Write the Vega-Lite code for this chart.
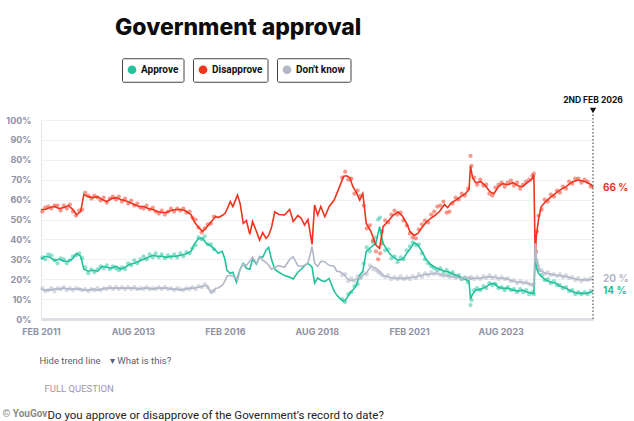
{
"$schema": "https://vega.github.io/schema/vega-lite/v6.json",
"width": 552, "height": 199,
"autosize": {"type": "none"},
"padding": {"left": 41, "top": 120, "right": 41, "bottom": 102},
"background": "white",
"title": {"text": "Government approval", "anchor": "start", "frame": "group", "dx": 74, "offset": 18, "font": "Inter", "fontSize": 23, "fontWeight": 800, "color": "#0d0d0d"},
"config": {"view": {"stroke": null}},
"datasets": {
"trend": [
{"date":"2011-02-01","A":30,"D":55,"K":15},
{"date":"2011-03-15","A":31.5,"D":55,"K":14.5},
{"date":"2011-05-01","A":31,"D":56,"K":14.5},
{"date":"2011-06-15","A":29.5,"D":56.5,"K":15},
{"date":"2011-08-01","A":30,"D":55.5,"K":15},
{"date":"2011-09-15","A":29,"D":56,"K":15.5},
{"date":"2011-11-01","A":29,"D":57,"K":15},
{"date":"2011-12-15","A":30.5,"D":55,"K":15},
{"date":"2012-01-20","A":33,"D":52.5,"K":15},
{"date":"2012-03-01","A":31.5,"D":54,"K":15},
{"date":"2012-04-01","A":25,"D":62.5,"K":14.5},
{"date":"2012-05-15","A":24,"D":61.5,"K":14.5},
{"date":"2012-07-01","A":24.5,"D":61,"K":15},
{"date":"2012-08-15","A":24,"D":61.5,"K":14.5},
{"date":"2012-10-01","A":26.5,"D":60,"K":15},
{"date":"2012-11-15","A":26,"D":59,"K":15.5},
{"date":"2013-01-01","A":25.5,"D":60.5,"K":15.5},
{"date":"2013-02-15","A":26.5,"D":61,"K":15.5},
{"date":"2013-04-01","A":25,"D":60,"K":15.5},
{"date":"2013-05-15","A":26,"D":59.5,"K":15.5},
{"date":"2013-07-01","A":27.5,"D":58.5,"K":15.5},
{"date":"2013-08-15","A":28,"D":57.5,"K":15.5},
{"date":"2013-10-01","A":29,"D":56.5,"K":15},
{"date":"2013-11-15","A":30,"D":56.5,"K":15.5},
{"date":"2014-01-01","A":31,"D":55.5,"K":15.5},
{"date":"2014-02-15","A":32,"D":55,"K":15},
{"date":"2014-04-01","A":31.5,"D":54,"K":15.5},
{"date":"2014-05-15","A":31.5,"D":53.5,"K":15.5},
{"date":"2014-07-01","A":31,"D":53.5,"K":15.5},
{"date":"2014-08-15","A":31.5,"D":54.5,"K":15},
{"date":"2014-10-01","A":31.5,"D":55,"K":15},
{"date":"2014-11-15","A":32,"D":55,"K":14.5},
{"date":"2015-01-01","A":32.5,"D":54.5,"K":15},
{"date":"2015-03-01","A":34,"D":52.5,"K":15.5},
{"date":"2015-04-01","A":37.5,"D":49,"K":15.5},
{"date":"2015-05-15","A":40.5,"D":46,"K":16},
{"date":"2015-06-25","A":40.5,"D":44,"K":16.5},
{"date":"2015-08-01","A":38,"D":46,"K":17},
{"date":"2015-09-20","A":36.5,"D":49,"K":13},
{"date":"2015-11-01","A":34.5,"D":51.5,"K":15.5},
{"date":"2015-11-25","A":33,"D":51,"K":15.6},
{"date":"2016-01-05","A":34,"D":52,"K":17},
{"date":"2016-02-01","A":30,"D":53,"K":19},
{"date":"2016-02-20","A":24.5,"D":55,"K":21.5},
{"date":"2016-03-25","A":23,"D":59,"K":22},
{"date":"2016-04-20","A":23.5,"D":56.5,"K":21.5},
{"date":"2016-05-25","A":18.5,"D":61,"K":20.5},
{"date":"2016-06-05","A":21,"D":62.3,"K":19.5},
{"date":"2016-07-01","A":25,"D":58,"K":25},
{"date":"2016-08-01","A":28,"D":48,"K":27.5},
{"date":"2016-09-01","A":25.5,"D":49.5,"K":27},
{"date":"2016-10-05","A":25,"D":42.5,"K":29},
{"date":"2016-11-01","A":30,"D":49,"K":31},
{"date":"2016-12-10","A":27.5,"D":44,"K":28},
{"date":"2017-01-10","A":31.3,"D":39.7,"K":31.3},
{"date":"2017-02-10","A":31,"D":43.4,"K":29.5},
{"date":"2017-03-15","A":34.6,"D":40.5,"K":28.5},
{"date":"2017-04-10","A":36,"D":42,"K":27},
{"date":"2017-05-08","A":30,"D":46,"K":25},
{"date":"2017-06-10","A":25,"D":53.9,"K":26},
{"date":"2017-07-20","A":23.5,"D":52.5,"K":26.8},
{"date":"2017-09-15","A":21.8,"D":52.3,"K":26},
{"date":"2017-11-05","A":21,"D":55,"K":30},
{"date":"2017-12-10","A":20.1,"D":49,"K":31.3},
{"date":"2018-01-25","A":23.5,"D":52,"K":26.8},
{"date":"2018-03-01","A":25,"D":50.5,"K":26.5},
{"date":"2018-04-01","A":26.8,"D":47.2,"K":27},
{"date":"2018-05-05","A":28,"D":50,"K":28},
{"date":"2018-06-15","A":26,"D":37.5,"K":36.5},
{"date":"2018-07-10","A":18,"D":57.3,"K":28},
{"date":"2018-08-10","A":20.6,"D":52.3,"K":26.5},
{"date":"2018-09-10","A":19.5,"D":56.5,"K":29},
{"date":"2018-10-20","A":18.8,"D":51.4,"K":28.8},
{"date":"2018-12-01","A":20.4,"D":56.4,"K":27},
{"date":"2019-01-20","A":14,"D":59.8,"K":26.5},
{"date":"2019-02-15","A":12,"D":63,"K":24},
{"date":"2019-03-15","A":10.5,"D":66.5,"K":23.8},
{"date":"2019-04-25","A":8.7,"D":71.8,"K":22.5},
{"date":"2019-05-25","A":10.4,"D":72,"K":20.5},
{"date":"2019-06-25","A":13,"D":71,"K":19.5},
{"date":"2019-07-25","A":14.6,"D":66.5,"K":19.5},
{"date":"2019-08-25","A":16.5,"D":64,"K":20},
{"date":"2019-10-01","A":22,"D":59.8,"K":21},
{"date":"2019-11-01","A":24,"D":63,"K":22},
{"date":"2019-12-05","A":34,"D":48,"K":23},
{"date":"2020-01-20","A":36,"D":44,"K":26.5},
{"date":"2020-03-10","A":38,"D":37.2,"K":25.5},
{"date":"2020-04-15","A":46.4,"D":35.5,"K":24},
{"date":"2020-05-20","A":38,"D":46.4,"K":22},
{"date":"2020-07-20","A":33,"D":49.7,"K":21},
{"date":"2020-08-25","A":31.3,"D":52,"K":20.6},
{"date":"2020-10-15","A":29.6,"D":53.9,"K":20.4},
{"date":"2020-12-01","A":30,"D":51.5,"K":20.5},
{"date":"2021-01-10","A":33,"D":48,"K":20.4},
{"date":"2021-02-10","A":35,"D":44,"K":20.8},
{"date":"2021-03-25","A":38.5,"D":42,"K":21},
{"date":"2021-05-01","A":37,"D":43,"K":21.5},
{"date":"2021-06-10","A":34,"D":46,"K":22},
{"date":"2021-07-20","A":30,"D":48.5,"K":22.5},
{"date":"2021-09-01","A":27.5,"D":50.5,"K":22.5},
{"date":"2021-10-15","A":26,"D":52,"K":23},
{"date":"2021-12-01","A":25,"D":54,"K":22.5},
{"date":"2022-01-20","A":24,"D":57.5,"K":22},
{"date":"2022-02-20","A":23.8,"D":56,"K":21.5},
{"date":"2022-04-01","A":23,"D":58.5,"K":21.3},
{"date":"2022-05-15","A":22,"D":59.8,"K":21},
{"date":"2022-07-01","A":21,"D":61.5,"K":20.5},
{"date":"2022-08-15","A":20,"D":63,"K":20.5},
{"date":"2022-09-20","A":19,"D":65,"K":21},
{"date":"2022-10-05","A":10,"D":77,"K":20},
{"date":"2022-10-25","A":12.5,"D":71,"K":20.5},
{"date":"2022-11-25","A":14.5,"D":68.5,"K":20.5},
{"date":"2023-01-15","A":15,"D":69,"K":20.5},
{"date":"2023-03-01","A":16,"D":67,"K":21},
{"date":"2023-04-15","A":17.5,"D":64,"K":21.3},
{"date":"2023-05-25","A":18,"D":63,"K":21},
{"date":"2023-07-10","A":16,"D":66.5,"K":20.5},
{"date":"2023-08-20","A":15.4,"D":68,"K":20.5},
{"date":"2023-10-10","A":15.5,"D":67.5,"K":20},
{"date":"2023-12-01","A":14.5,"D":68.5,"K":19},
{"date":"2024-01-20","A":14,"D":67,"K":18.5},
{"date":"2024-03-05","A":14.5,"D":66.5,"K":18.5},
{"date":"2024-04-20","A":13.5,"D":68.5,"K":18},
{"date":"2024-06-01","A":13,"D":70,"K":17.5},
{"date":"2024-06-25","A":12.9,"D":72.4,"K":17},
{"date":"2024-07-08","A":29.6,"D":31.3,"K":38},
{"date":"2024-07-20","A":26,"D":42,"K":30},
{"date":"2024-08-10","A":23,"D":50,"K":25.5},
{"date":"2024-09-05","A":21.5,"D":56.4,"K":24},
{"date":"2024-10-20","A":19.6,"D":59,"K":23},
{"date":"2024-12-15","A":18.5,"D":61.5,"K":22.5},
{"date":"2025-02-05","A":17.9,"D":63.5,"K":22},
{"date":"2025-03-10","A":16.5,"D":64.8,"K":21.8},
{"date":"2025-05-10","A":15.4,"D":66.5,"K":21.3},
{"date":"2025-07-15","A":13.7,"D":69,"K":20.5},
{"date":"2025-09-10","A":12.9,"D":69.8,"K":19.8},
{"date":"2025-11-20","A":12.9,"D":69,"K":19.6},
{"date":"2026-01-15","A":13.5,"D":67.5,"K":19.8},
{"date":"2026-02-02","A":14,"D":66,"K":20}
],
"polls": [
{"date":"2011-02-15","A":31,"D":54,"K":15.5},
{"date":"2011-03-15","A":30,"D":56,"K":14},
{"date":"2011-04-15","A":32.5,"D":56.5,"K":14.5},
{"date":"2011-05-15","A":32,"D":55.5,"K":15.5},
{"date":"2011-06-15","A":29.5,"D":57,"K":14},
{"date":"2011-07-15","A":28,"D":57,"K":15.5},
{"date":"2011-08-15","A":30.5,"D":54.5,"K":15},
{"date":"2011-09-15","A":30,"D":57,"K":16},
{"date":"2011-10-15","A":28,"D":55.5,"K":14.5},
{"date":"2011-11-15","A":29.5,"D":57.5,"K":15.5},
{"date":"2011-12-15","A":31.5,"D":54,"K":14.5},
{"date":"2012-01-15","A":32,"D":52,"K":15.5},
{"date":"2012-02-15","A":33,"D":54.5,"K":15},
{"date":"2012-03-15","A":30.5,"D":55,"K":14.5},
{"date":"2012-04-15","A":26,"D":63.5,"K":15},
{"date":"2012-05-15","A":23,"D":62,"K":14},
{"date":"2012-06-15","A":25,"D":60.5,"K":15},
{"date":"2012-07-15","A":23.5,"D":62,"K":14.5},
{"date":"2012-08-15","A":25,"D":61,"K":15.5},
{"date":"2012-09-15","A":26.5,"D":59.5,"K":14.5},
{"date":"2012-10-15","A":25.5,"D":61,"K":15.5},
{"date":"2012-11-15","A":27,"D":58.5,"K":15},
{"date":"2012-12-15","A":25,"D":60.5,"K":16},
{"date":"2013-01-15","A":26.5,"D":61.5,"K":15},
{"date":"2013-02-15","A":25.5,"D":60,"K":16},
{"date":"2013-03-15","A":24.5,"D":61.5,"K":15},
{"date":"2013-04-15","A":26,"D":59,"K":16},
{"date":"2013-05-15","A":25,"D":60.5,"K":15},
{"date":"2013-06-15","A":28,"D":58,"K":16},
{"date":"2013-07-15","A":27,"D":59.5,"K":15},
{"date":"2013-08-15","A":29.5,"D":57,"K":16},
{"date":"2013-09-15","A":28,"D":58,"K":15},
{"date":"2013-10-15","A":30,"D":56,"K":15.5},
{"date":"2013-11-15","A":31.5,"D":55.5,"K":15},
{"date":"2013-12-15","A":30,"D":57,"K":16},
{"date":"2014-01-15","A":32.5,"D":55,"K":15},
{"date":"2014-02-15","A":31,"D":56,"K":15.5},
{"date":"2014-03-15","A":33,"D":54,"K":15},
{"date":"2014-04-15","A":31,"D":53,"K":16},
{"date":"2014-05-15","A":32.5,"D":54.5,"K":15},
{"date":"2014-06-15","A":30.5,"D":52.5,"K":16},
{"date":"2014-07-15","A":32,"D":54,"K":15},
{"date":"2014-08-15","A":31,"D":55.5,"K":15.5},
{"date":"2014-09-15","A":32.5,"D":54,"K":14.5},
{"date":"2014-10-15","A":31,"D":55.5,"K":15.5},
{"date":"2014-11-15","A":33,"D":54.5,"K":15},
{"date":"2014-12-15","A":31.5,"D":55.5,"K":14.5},
{"date":"2015-01-15","A":33.5,"D":53.5,"K":15.5},
{"date":"2015-02-15","A":33,"D":54,"K":15},
{"date":"2015-03-15","A":35.5,"D":51,"K":16},
{"date":"2015-04-15","A":37,"D":50,"K":15},
{"date":"2015-05-15","A":41,"D":46,"K":16.5},
{"date":"2015-06-15","A":40,"D":43.5,"K":16},
{"date":"2015-07-15","A":41.5,"D":45.5,"K":17.5},
{"date":"2015-08-15","A":37.5,"D":47.5,"K":16},
{"date":"2015-09-15","A":37.5,"D":48,"K":14},
{"date":"2015-10-15","A":35,"D":51.5,"K":14},
{"date":"2019-04-10","A":10,"D":71,"K":22},
{"date":"2019-05-10","A":8.5,"D":74,"K":22.5},
{"date":"2019-06-10","A":12.5,"D":70,"K":19},
{"date":"2019-07-10","A":13.5,"D":70.5,"K":20.5},
{"date":"2019-08-10","A":16.5,"D":63,"K":19},
{"date":"2019-09-10","A":17.5,"D":64.5,"K":21.5},
{"date":"2019-10-10","A":21,"D":62,"K":20.5},
{"date":"2019-11-10","A":28,"D":57,"K":23},
{"date":"2019-12-10","A":36,"D":45.5,"K":22.5},
{"date":"2020-01-10","A":34,"D":47,"K":27},
{"date":"2020-02-10","A":38.5,"D":39.5,"K":25},
{"date":"2020-03-10","A":41,"D":34,"K":24.5},
{"date":"2020-04-01","A":50,"D":30,"K":23.5},
{"date":"2020-04-20","A":51,"D":33,"K":23},
{"date":"2020-05-10","A":44,"D":38,"K":22},
{"date":"2020-06-10","A":34.5,"D":49.5,"K":21},
{"date":"2020-07-10","A":35,"D":48.5,"K":22},
{"date":"2020-08-10","A":30.5,"D":52.5,"K":20},
{"date":"2020-09-10","A":31.5,"D":54.5,"K":21},
{"date":"2020-10-10","A":28.5,"D":52.5,"K":20},
{"date":"2020-11-10","A":31,"D":53.5,"K":21.5},
{"date":"2020-12-10","A":30,"D":49.5,"K":20},
{"date":"2021-01-10","A":34.5,"D":47,"K":21},
{"date":"2021-02-10","A":36.5,"D":43,"K":20},
{"date":"2021-03-10","A":38.5,"D":41,"K":21.5},
{"date":"2021-04-10","A":37,"D":40.5,"K":20.5},
{"date":"2021-05-10","A":37.5,"D":45,"K":22.5},
{"date":"2021-06-10","A":33,"D":47.5,"K":21},
{"date":"2021-07-10","A":30,"D":49.5,"K":23},
{"date":"2021-08-10","A":28,"D":48.5,"K":22},
{"date":"2021-09-10","A":26.5,"D":52.5,"K":23.5},
{"date":"2021-10-10","A":25.5,"D":54,"K":22.5},
{"date":"2021-11-10","A":24.5,"D":56.5,"K":23.5},
{"date":"2021-12-10","A":25.5,"D":57,"K":22},
{"date":"2022-01-10","A":23.5,"D":59,"K":21.5},
{"date":"2022-02-10","A":24.5,"D":53.5,"K":22},
{"date":"2022-03-10","A":22.5,"D":54,"K":21},
{"date":"2022-04-10","A":23.5,"D":58,"K":22},
{"date":"2022-05-10","A":21.5,"D":61,"K":20.5},
{"date":"2022-06-10","A":22,"D":60,"K":21.5},
{"date":"2022-07-10","A":20,"D":63,"K":20},
{"date":"2022-08-10","A":20.5,"D":62,"K":21},
{"date":"2022-09-10","A":18.5,"D":65.5,"K":20},
{"date":"2022-10-05","A":7,"D":82,"K":20.5},
{"date":"2022-10-15","A":9.5,"D":77,"K":21},
{"date":"2022-11-10","A":14.5,"D":71,"K":20},
{"date":"2022-12-10","A":15.5,"D":67.5,"K":21},
{"date":"2023-01-10","A":14.5,"D":70,"K":20},
{"date":"2023-02-10","A":16.5,"D":67,"K":21.5},
{"date":"2023-03-10","A":15.5,"D":67.5,"K":20.5},
{"date":"2023-04-10","A":18,"D":63,"K":22},
{"date":"2023-05-10","A":17,"D":62,"K":20.5},
{"date":"2023-06-10","A":17.5,"D":66,"K":21.5},
{"date":"2023-07-10","A":15.5,"D":67.5,"K":20},
{"date":"2023-08-10","A":16,"D":68.5,"K":21},
{"date":"2023-09-10","A":14.5,"D":66.5,"K":20},
{"date":"2023-10-10","A":16,"D":68.5,"K":20.5},
{"date":"2023-11-10","A":14.5,"D":69.5,"K":19},
{"date":"2023-12-10","A":15,"D":67,"K":19.5},
{"date":"2024-01-10","A":13.5,"D":68.5,"K":18},
{"date":"2024-02-10","A":15,"D":65.5,"K":19},
{"date":"2024-03-10","A":13.5,"D":67.5,"K":18},
{"date":"2024-04-10","A":14.5,"D":69,"K":18.5},
{"date":"2024-05-10","A":12.5,"D":70,"K":17.5},
{"date":"2024-06-10","A":13.5,"D":72,"K":17},
{"date":"2024-06-25","A":12.5,"D":73,"K":17.5},
{"date":"2024-07-15","A":30,"D":34,"K":33},
{"date":"2024-07-25","A":27.5,"D":44,"K":29},
{"date":"2024-08-10","A":24.5,"D":52,"K":26.5},
{"date":"2024-09-10","A":22,"D":55,"K":24.5},
{"date":"2024-10-10","A":19.5,"D":60,"K":22.5},
{"date":"2024-11-10","A":20,"D":59,"K":23.5},
{"date":"2024-12-10","A":18,"D":62.5,"K":22},
{"date":"2025-01-10","A":19,"D":61.5,"K":22.5},
{"date":"2025-02-10","A":17,"D":64.5,"K":21.5},
{"date":"2025-03-10","A":17,"D":63.5,"K":22.5},
{"date":"2025-04-10","A":15.5,"D":66.5,"K":21},
{"date":"2025-05-10","A":16,"D":65.5,"K":22},
{"date":"2025-06-10","A":14,"D":69,"K":20.5},
{"date":"2025-07-10","A":14.5,"D":68,"K":21},
{"date":"2025-08-10","A":12.5,"D":70.5,"K":19.5},
{"date":"2025-09-10","A":13.5,"D":70.5,"K":20.5},
{"date":"2025-10-10","A":12.5,"D":68.5,"K":19},
{"date":"2025-11-10","A":13.5,"D":70,"K":20},
{"date":"2025-12-10","A":12.5,"D":69,"K":19.5},
{"date":"2026-01-10","A":14,"D":66.5,"K":20.5}
],
"ends": [
{"date":"2026-02-02","series":"D","v":66,"label":"66 %"},
{"date":"2026-02-02","series":"K","v":20,"label":"20 %"},
{"date":"2026-02-02","series":"A","v":14,"label":"14 %"}
]
},
"layer": [
{
"data": {"name": "polls"},
"transform": [{"fold": ["A","D","K"], "as": ["series","value"]}],
"mark": {"type": "circle", "size": 18, "opacity": 0.5},
"encoding": {
"x": {"field": "date", "type": "temporal", "scale": {"type": "utc", "domain": [{"year":2011,"month":2,"date":1,"utc":true},{"year":2026,"month":2,"date":2,"utc":true}]}, "axis": null},
"y": {"field": "value", "type": "quantitative", "scale": {"domain": [0,100], "nice": false}, "axis": null},
"color": {"field": "series", "type": "nominal", "scale": {"domain": ["A","D","K"], "range": ["#22c29b","#f1331e","#b3b8c8"]},
"legend": {"orient": "none", "legendX": 81, "legendY": -62, "direction": "horizontal", "title": null, "symbolType": "circle", "symbolSize": 75, "symbolOpacity": 1, "symbolStrokeWidth": 0, "labelFont": "Roboto", "labelFontWeight": "bold", "labelFontSize": 10, "labelColor": "#111", "columnPadding": 8, "padding": 0, "clipHeight": 23,
"labelExpr": "datum.label == 'A' ? 'Approve' : datum.label == 'D' ? 'Disapprove' : \"Don't know\"",
"encode": {
"entries": {"update": {"stroke": {"value": "#444"}, "strokeWidth": {"value": 1}, "fill": {"value": "#ffffff"}, "cornerRadius": {"value": 1.5}, "width": {"signal": "(datum.index === 0 || datum.value === 'A' || datum.label === 'A' || datum.label === 'Approve') ? 61 : (datum.index === 1 || datum.value === 'D' || datum.label === 'D' || datum.label === 'Disapprove') ? 74 : 73"}, "height": {"value": 23}}},
"symbols": {"update": {"x": {"value": 10}, "y": {"value": 11.5}}},
"labels": {"update": {"x": {"value": 19}, "y": {"value": 11.5}}}
}}}
}
},
{
"data": {"name": "trend"},
"transform": [{"fold": ["A","D","K"], "as": ["series","value"]}],
"mark": {"type": "line", "strokeWidth": 1.6},
"encoding": {
"x": {"field": "date", "type": "temporal", "scale": {"type": "utc", "domain": [{"year":2011,"month":2,"date":1,"utc":true},{"year":2026,"month":2,"date":2,"utc":true}]},
"axis": {"orient": "bottom", "values": [{"year":2011,"month":2,"date":1,"utc":true},{"year":2013,"month":8,"date":1,"utc":true},{"year":2016,"month":2,"date":1,"utc":true},{"year":2018,"month":8,"date":1,"utc":true},{"year":2021,"month":2,"date":1,"utc":true},{"year":2023,"month":8,"date":1,"utc":true}],
"labelExpr": "upper(utcFormat(datum.value, '%b %Y'))", "labelFlush": false, "labelOverlap": false, "labelFont": "Inter", "labelFontWeight": "bold", "labelFontSize": 9, "labelColor": "#8e92a4", "labelPadding": 8, "ticks": false, "grid": false, "domainColor": "#dfe0e6", "domainWidth": 3,
"title": "Hide trend line\u00A0\u00A0\u00A0\u00A0\u25BE What is this?", "titleX": -2, "titleY": 44, "titleAlign": "left", "titleAngle": 0, "titleBaseline": "alphabetic", "titleFont": "Roboto", "titleFontSize": 9.5, "titleFontWeight": "normal", "titleColor": "#5d6070"}},
"y": {"field": "value", "type": "quantitative", "scale": {"domain": [0,100], "nice": false},
"axis": {"orient": "left", "values": [0,10,20,30,40,50,60,70,80,90,100], "labelExpr": "datum.value + '%'", "labelFont": "Inter", "labelFontWeight": "bold", "labelFontSize": 9, "labelColor": "#8e92a4", "labelPadding": 10, "ticks": false, "domainColor": "#e6e7ec", "grid": true, "gridColor": "#f1f1f4",
"title": "FULL QUESTION", "titleX": 3, "titleY": 271, "titleAngle": 0, "titleAlign": "left", "titleBaseline": "alphabetic", "titleFont": "Roboto", "titleFontSize": 9.5, "titleFontWeight": "normal", "titleColor": "#9b9b9b"}},
"color": {"field": "series", "type": "nominal", "scale": {"domain": ["A","D","K"], "range": ["#22c29b","#f1331e","#b3b8c8"]},
"legend": {"orient": "none", "legendX": 81, "legendY": -62, "direction": "horizontal", "title": null, "symbolType": "circle", "symbolSize": 75, "symbolOpacity": 1, "symbolStrokeWidth": 0, "labelFont": "Roboto", "labelFontWeight": "bold", "labelFontSize": 10, "labelColor": "#111", "columnPadding": 8, "padding": 0, "clipHeight": 23,
"labelExpr": "datum.label == 'A' ? 'Approve' : datum.label == 'D' ? 'Disapprove' : \"Don't know\"",
"encode": {
"entries": {"update": {"stroke": {"value": "#444"}, "strokeWidth": {"value": 1}, "fill": {"value": "#ffffff"}, "cornerRadius": {"value": 1.5}, "width": {"signal": "(datum.index === 0 || datum.value === 'A' || datum.label === 'A' || datum.label === 'Approve') ? 61 : (datum.index === 1 || datum.value === 'D' || datum.label === 'D' || datum.label === 'Disapprove') ? 74 : 73"}, "height": {"value": 23}}},
"symbols": {"update": {"x": {"value": 10}, "y": {"value": 11.5}}},
"labels": {"update": {"x": {"value": 19}, "y": {"value": 11.5}}}
}}}
}
},
{
"data": {"values": [{}]},
"mark": {"type": "rule", "strokeDash": [1.5, 2], "color": "#555", "strokeWidth": 1.2},
"encoding": {
"x": {"datum": {"year":2026,"month":2,"date":2,"utc":true}, "type": "temporal", "axis": null},
"y": {"datum": 0, "type": "quantitative", "axis": null},
"y2": {"datum": 103.5}
}
},
{
"data": {"values": [{}]},
"mark": {"type": "point", "shape": "triangle-down", "filled": true, "size": 40, "color": "#111", "opacity": 1},
"encoding": {
"x": {"datum": {"year":2026,"month":2,"date":2,"utc":true}, "type": "temporal", "axis": null},
"y": {"datum": 104.8, "type": "quantitative", "axis": null}
}
},
{
"data": {"values": [{}]},
"mark": {"type": "text", "text": "2ND FEB 2026", "font": "Inter", "fontWeight": "bold", "fontSize": 8.5, "color": "#111", "baseline": "middle", "align": "center"},
"encoding": {
"x": {"datum": {"year":2026,"month":2,"date":2,"utc":true}, "type": "temporal", "axis": null},
"y": {"datum": 110, "type": "quantitative", "axis": null}
}
},
{
"data": {"name": "ends"},
"mark": {"type": "text", "align": "left", "dx": 10, "baseline": "middle", "font": "Inter", "fontWeight": "bold", "fontSize": 10},
"encoding": {
"x": {"field": "date", "type": "temporal",
"axis": {"orient": "top", "labels": false, "ticks": false, "domain": false, "grid": false, "title": "Do you approve or disapprove of the Government\u2019s record to date?", "titleX": 6, "titleY": 298, "titleAlign": "left", "titleAngle": 0, "titleBaseline": "alphabetic", "titleFont": "Roboto", "titleFontSize": 11.5, "titleFontWeight": "normal", "titleColor": "#222"}},
"y": {"field": "v", "type": "quantitative",
"axis": {"orient": "right", "labels": false, "ticks": false, "domain": false, "grid": false, "title": "\u00A9 YouGov", "titleX": -591, "titleY": 296, "titleAlign": "left", "titleAngle": 0, "titleBaseline": "alphabetic", "titleFont": "Roboto", "titleFontSize": 10, "titleFontWeight": "bold", "titleColor": "#8a8a8a"}},
"color": {"field": "series", "type": "nominal", "legend": null},
"text": {"field": "label"}
}
}
],
"resolve": {"axis": {"x": "independent", "y": "independent"}}
}
